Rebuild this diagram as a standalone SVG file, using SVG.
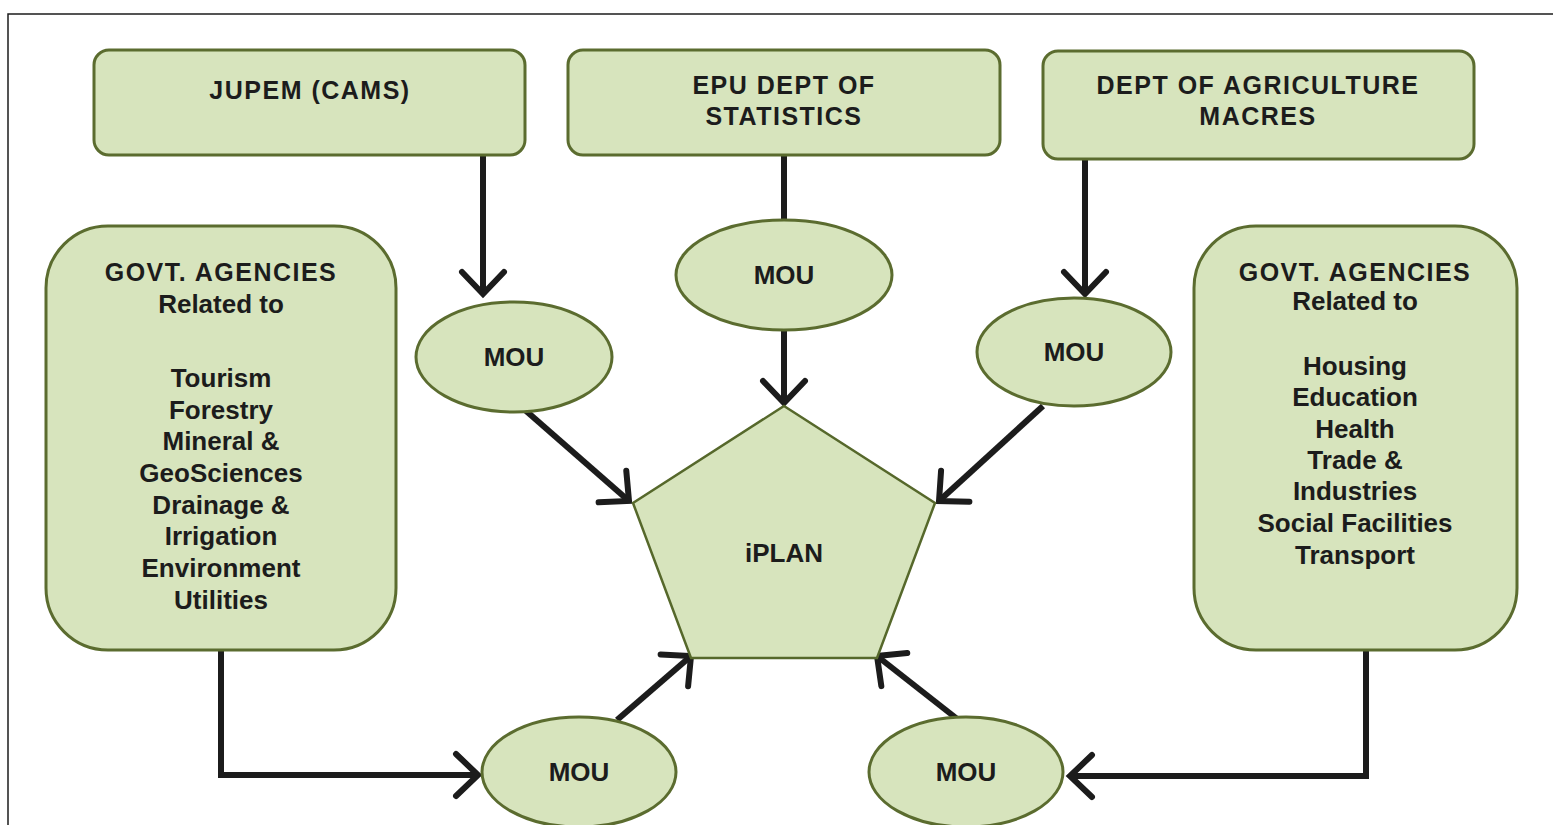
<svg xmlns="http://www.w3.org/2000/svg" width="1553" height="825" viewBox="0 0 1553 825">
<style>
.n{fill:#d7e4bd;stroke:#5b6c2f;stroke-width:3}
.p{fill:#d7e4bd;stroke:#56682b;stroke-width:2.5}
.t{font-family:"Liberation Sans",Arial,sans-serif;font-weight:bold;fill:#1c1c1c;text-anchor:middle}
.cap{font-size:25px;letter-spacing:1.5px}
.lo{font-size:26px}
.c{fill:none;stroke:#1c1c1c;stroke-width:6}
</style>
<defs>
<marker id="ah" markerUnits="userSpaceOnUse" markerWidth="60" markerHeight="60" viewBox="-30 -30 60 60" refX="0" refY="0" orient="auto" overflow="visible">
<path d="M-22,-21 L0,0 L-22,21" fill="none" stroke="#1c1c1c" stroke-width="6" stroke-linecap="round" stroke-linejoin="miter"/>
</marker>
</defs>
<rect width="1553" height="825" fill="#ffffff"/>
<path d="M8,825 V14 H1553" fill="none" stroke="#1c1c1c" stroke-width="1.5"/>

<g id="connectors">
<path class="c" d="M483,155 V294" marker-end="url(#ah)"/>
<path class="c" d="M784,155 V220"/>
<path class="c" d="M784,330 V403" marker-end="url(#ah)"/>
<path class="c" d="M1085,159 V294" marker-end="url(#ah)"/>
<path class="c" d="M525,410 L629,501" marker-end="url(#ah)"/>
<path class="c" d="M1043,406 L939,501" marker-end="url(#ah)"/>
<path class="c" d="M617,720 L691,656" marker-end="url(#ah)"/>
<path class="c" d="M956,718 L877,656" marker-end="url(#ah)"/>
<path class="c" d="M221,650 V775 H478" marker-end="url(#ah)"/>
<path class="c" d="M1366,650 V776 H1070" marker-end="url(#ah)"/>
</g>

<g id="jupem">
<rect class="n" x="94" y="50" width="431" height="105" rx="15"/>
<text class="t cap" x="310" y="99">JUPEM (CAMS)</text>
</g>
<g id="epu">
<rect class="n" x="568" y="50" width="432" height="105" rx="15"/>
<text class="t cap" x="784" y="94">EPU DEPT OF</text>
<text class="t cap" x="784" y="125">STATISTICS</text>
</g>
<g id="agri">
<rect class="n" x="1043" y="51" width="431" height="108" rx="15"/>
<text class="t cap" x="1258" y="94">DEPT OF AGRICULTURE</text>
<text class="t cap" x="1258" y="125">MACRES</text>
</g>
<g id="govt-left">
<rect class="n" x="46" y="226" width="350" height="424" rx="62"/>
<text class="t cap" x="221" y="281">GOVT. AGENCIES</text>
<text class="t lo" x="221" y="313">Related to</text>
<text class="t lo" x="221" y="387">Tourism</text>
<text class="t lo" x="221" y="419">Forestry</text>
<text class="t lo" x="221" y="450">Mineral &amp;</text>
<text class="t lo" x="221" y="482">GeoSciences</text>
<text class="t lo" x="221" y="514">Drainage &amp;</text>
<text class="t lo" x="221" y="545">Irrigation</text>
<text class="t lo" x="221" y="577">Environment</text>
<text class="t lo" x="221" y="609">Utilities</text>
</g>
<g id="govt-right">
<rect class="n" x="1194" y="226" width="323" height="424" rx="62"/>
<text class="t cap" x="1355" y="281">GOVT. AGENCIES</text>
<text class="t lo" x="1355" y="310">Related to</text>
<text class="t lo" x="1355" y="375">Housing</text>
<text class="t lo" x="1355" y="406">Education</text>
<text class="t lo" x="1355" y="438">Health</text>
<text class="t lo" x="1355" y="469">Trade &amp;</text>
<text class="t lo" x="1355" y="500">Industries</text>
<text class="t lo" x="1355" y="532">Social Facilities</text>
<text class="t lo" x="1355" y="564">Transport</text>
</g>
<g id="mou-left">
<ellipse class="n" cx="514" cy="357" rx="98" ry="55"/>
<text class="t lo" x="514" y="366">MOU</text>
</g>
<g id="mou-top">
<ellipse class="n" cx="784" cy="275" rx="108" ry="55"/>
<text class="t lo" x="784" y="284">MOU</text>
</g>
<g id="mou-right">
<ellipse class="n" cx="1074" cy="352" rx="97" ry="54"/>
<text class="t lo" x="1074" y="361">MOU</text>
</g>
<g id="mou-bottom-left">
<ellipse class="n" cx="579" cy="772" rx="97" ry="55"/>
<text class="t lo" x="579" y="781">MOU</text>
</g>
<g id="mou-bottom-right">
<ellipse class="n" cx="966" cy="772" rx="97" ry="55"/>
<text class="t lo" x="966" y="781">MOU</text>
</g>
<g id="iplan">
<polygon class="p" points="784,406 935,503 877,658 691,658 633,503"/>
<text class="t lo" x="784" y="562">iPLAN</text>
</g>
</svg>
